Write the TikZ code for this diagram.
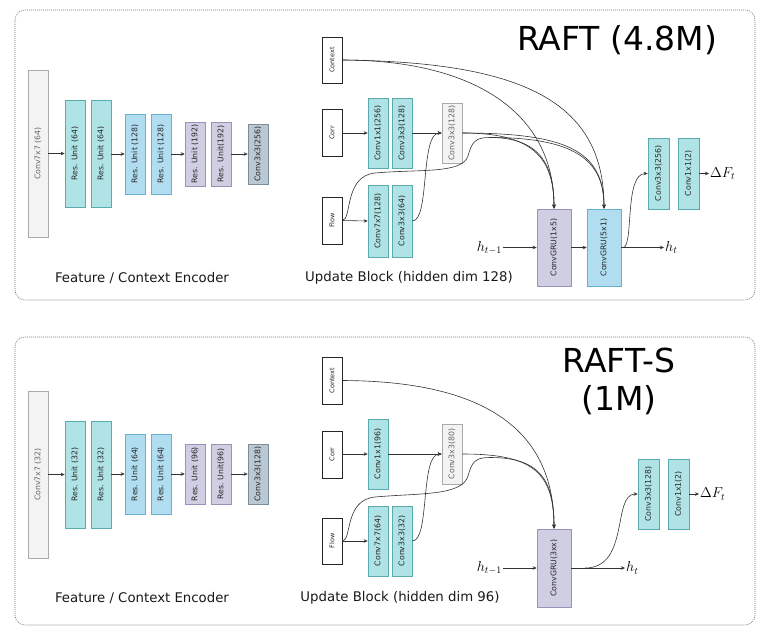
\documentclass[tikz,border=0pt]{standalone}
\usepackage[no-math]{fontspec}
\setmainfont{DejaVu Sans}
\usepackage{graphicx}
\usetikzlibrary{arrows.meta}
\definecolor{tealF}{HTML}{B0E3E6}
\definecolor{tealD}{HTML}{5AABB0}
\definecolor{blueF}{HTML}{B1DDF0}
\definecolor{blueD}{HTML}{6AAED0}
\definecolor{purpF}{HTML}{D0CEE2}
\definecolor{purpD}{HTML}{9893B8}
\definecolor{slateF}{HTML}{BAC8D3}
\definecolor{slateD}{HTML}{7B8D9B}
\definecolor{grayF}{HTML}{F3F3F3}
\definecolor{grayD}{HTML}{AAAAAA}
\tikzset{
 base/.style={draw, rectangle, inner sep=0pt, line width=0.6pt, font=\fontsize{7.8}{9}\selectfont, text=black!85},
 sz/.style 2 args={minimum width=#1, minimum height=#2},
 tealbox/.style={base, fill=tealF, draw=tealD},
 bluebox/.style={base, fill=blueF, draw=blueD},
 purpbox/.style={base, fill=purpF, draw=purpD},
 slatebox/.style={base, fill=slateF, draw=slateD},
 graybox/.style={base, fill=grayF, draw=grayD, text=black!60},
 inbox/.style={base, fill=white, draw=black!85, font=\fontsize{6.5}{7}\selectfont},
 arr/.style={-{Stealth[length=4pt,width=3.5pt]}, line width=0.6pt, draw=black!80},
 ln/.style={line width=0.6pt, draw=black!80},
 panel/.style={draw=black!55, dash pattern=on 1pt off 1pt, line width=0.6pt, rounded corners=10pt},
 mathlbl/.style={inner sep=1pt, font=\fontsize{14}{16}\selectfont},
 captxt/.style={inner sep=0pt, font=\fontsize{13.3}{15}\selectfont, text=black!90},
 ttl/.style={inner sep=0pt, align=center, font=\fontsize{33}{38}\selectfont},
}
\newcommand{\vt}[1]{\rotatebox{90}{#1}}
\begin{document}
\begin{tikzpicture}[x=1pt,y=-1pt]
\useasboundingbox (0,0) rectangle (768,630);
% ================= TOP PANEL =================
\draw[panel] (15,10) rectangle (755,300);
\node[ttl, anchor=center] (t1) at (617,40) {RAFT (4.8M)};
% encoder
\node[graybox, sz={20}{167}] (ac7) at (38,153.5) {\vt{Conv7x7 (64)}};
\node[tealbox, sz={20}{107}] (ar1) at (75,153.5) {\vt{Res. Unit (64)}};
\node[tealbox, sz={20}{107}] (ar2) at (101,153.5) {\vt{Res. Unit (64)}};
\node[bluebox, sz={20}{80}] (ar3) at (135,154) {\vt{Res. Unit (128)}};
\node[bluebox, sz={20}{80}] (ar4) at (161,154) {\vt{Res. Unit (128)}};
\node[purpbox, sz={20}{64}] (ar5) at (195,154) {\vt{Res. Unit (192)}};
\node[purpbox, sz={20}{64}] (ar6) at (221,154) {\vt{Res. Unit(192)}};
\node[slatebox, sz={20}{60}] (ac3) at (258,154) {\vt{Conv3x3(256)}};
\draw[arr] (ac7.east |- ar1) -- (ar1.west);
\draw[arr] (ar2.east |- ar3) -- (ar3.west);
\draw[arr] (ar4.east |- ar5) -- (ar5.west);
\draw[arr] (ar6.east |- ac3) -- (ac3.west);
\node[captxt] (acap) at (142,278) {Feature / Context Encoder};
% update block
\node[inbox, sz={20}{46}] (actx) at (332,60) {\vt{Context}};
\node[inbox, sz={20}{47}] (acorr) at (332,133) {\vt{Corr}};
\node[inbox, sz={20}{47}] (aflow) at (332,220.5) {\vt{Flow}};
\node[tealbox, sz={20}{70}] (ac11) at (378,133) {\vt{Conv1x1(256)}};
\node[tealbox, sz={20}{70}] (ac33a) at (402,133) {\vt{Conv3x3(128)}};
\node[graybox, sz={20}{60}] (ac33g) at (452,133) {\vt{Conv3x3(128)}};
\node[tealbox, sz={20}{72}] (ac77) at (378,221) {\vt{Conv7x7(128)}};
\node[tealbox, sz={20}{72}] (ac33b) at (402,221) {\vt{Conv3x3(64)}};
\node[purpbox, sz={34}{77}] (agru1) at (554,247.5) {\vt{ConvGRU(1x5)}};
\node[bluebox, sz={34}{77}] (agru2) at (604,247.5) {\vt{ConvGRU(5x1)}};
\node[mathlbl, anchor=east] (ahm) at (503,247.5) {$h_{t-1}$};
\node[mathlbl, anchor=west] (aht) at (664,247.5) {$h_t$};
\node[tealbox, sz={21}{71}] (ad33) at (658.5,173.5) {\vt{Conv3x3(256)}};
\node[tealbox, sz={21}{71}] (ad11) at (688.5,173.5) {\vt{Conv1x1(2)}};
\node[mathlbl, anchor=west] (adf) at (709,173.5) {$\Delta F_t$};
\node[captxt] (aucap) at (409,278) {Update Block (hidden dim 128)};
\draw[arr] (acorr.east) -- (ac11.west);
\draw[arr] (ac33a.east) -- (ac33g.west);
\draw[arr] (aflow.east) -- (ac77.west);
\draw[arr] (ac33b.east) .. controls (430,221) and (420,133) .. (ac33g.west);
\draw[arr] (ahm.east) -- (agru1.west);
\draw[arr] (agru1.east) -- (agru2.west);
\draw[arr] (agru2.east) -- (aht.west);
\draw[arr] (ad11.east) -- (adf.west);
\coordinate (afm) at (490,137.5);
\draw[ln] (aflow.east) .. controls (352,220) and (344,176) .. (375,173) .. controls (420,169) and (462,174) .. (468,156) .. controls (472,141) and (476,137.5) .. (afm);
\draw[arr] (afm) .. controls (540,137.5) and (554,165) .. (agru1.north);
\draw[arr] (afm) .. controls (575,137.5) and (604,160) .. (agru2.north);
\draw[arr] (ac33g.east) .. controls (530,133) and (554,155) .. (agru1.north);
\draw[arr] (ac33g.east) .. controls (565,133) and (604,150) .. (agru2.north);
\draw[arr] (actx.east) .. controls (470,60) and (554,110) .. (agru1.north);
\draw[arr] (actx.east) .. controls (520,62) and (604,100) .. (agru2.north);
\coordinate (ag2o) at (623,247.5);
\draw[arr] (ag2o) .. controls (634,247.5) and (624,173.5) .. (ad33.west);
% ================= BOTTOM PANEL =================
\draw[panel] (15,337) rectangle (755,625);
\node[ttl, anchor=center] (t2) at (619,381) {RAFT-S\\(1M)};
% encoder
\node[graybox, sz={20}{167}] (bc7) at (38,474.5) {\vt{Conv7x7 (32)}};
\node[tealbox, sz={20}{107}] (br1) at (75,474.5) {\vt{Res. Unit (32)}};
\node[tealbox, sz={20}{107}] (br2) at (101,474.5) {\vt{Res. Unit (32)}};
\node[bluebox, sz={20}{80}] (br3) at (135,474) {\vt{Res. Unit (64)}};
\node[bluebox, sz={20}{80}] (br4) at (161,474) {\vt{Res. Unit (64)}};
\node[purpbox, sz={20}{60}] (br5) at (195,474) {\vt{Res. Unit (96)}};
\node[purpbox, sz={20}{60}] (br6) at (221,474) {\vt{Res. Unit(96)}};
\node[slatebox, sz={20}{60}] (bc3) at (258,474) {\vt{Conv3x3(128)}};
\draw[arr] (bc7.east |- br1) -- (br1.west);
\draw[arr] (br2.east |- br3) -- (br3.west);
\draw[arr] (br4.east |- br5) -- (br5.west);
\draw[arr] (br6.east |- bc3) -- (bc3.west);
\node[captxt] (bcap) at (142,598) {Feature / Context Encoder};
% update block
\node[inbox, sz={20}{47}] (bctx) at (332,380.5) {\vt{Context}};
\node[inbox, sz={20}{47}] (bcorr) at (332,454.5) {\vt{Corr}};
\node[inbox, sz={20}{46}] (bflow) at (332,541) {\vt{Flow}};
\node[tealbox, sz={20}{70}] (bc11) at (378,454) {\vt{Conv1x1(96)}};
\node[graybox, sz={20}{60}] (bc33g) at (452,454) {\vt{Conv3x3(80)}};
\node[tealbox, sz={20}{70}] (bc77) at (378,541) {\vt{Conv7x7(64)}};
\node[tealbox, sz={20}{70}] (bc33b) at (402,541) {\vt{Conv3x3(32)}};
\node[purpbox, sz={34}{78}] (bgru) at (554,568) {\vt{ConvGRU(3xx)}};
\node[mathlbl, anchor=east] (bhm) at (503,568) {$h_{t-1}$};
\node[mathlbl, anchor=west] (bht) at (625,568) {$h_t$};
\node[tealbox, sz={21}{70}] (bd33) at (648.5,494) {\vt{Conv3x3(128)}};
\node[tealbox, sz={21}{70}] (bd11) at (678.5,494) {\vt{Conv1x1(2)}};
\node[mathlbl, anchor=west] (bdf) at (699,494) {$\Delta F_t$};
\node[captxt] (bucap) at (400,598) {Update Block (hidden dim 96)};
\draw[arr] (bcorr.east |- bc11) -- (bc11.west);
\draw[arr] (bc11.east) -- (bc33g.west);
\draw[arr] (bflow.east) -- (bc77.west);
\draw[arr] (bc33b.east) .. controls (430,541) and (420,454) .. (bc33g.west);
\draw[arr] (bhm.east) -- (bgru.west);
\draw[arr] (bgru.east) -- (bht.west);
\draw[arr] (bd11.east) -- (bdf.west);
\coordinate (bfm) at (490,457.5);
\draw[ln] (bflow.east) .. controls (352,541) and (344,500) .. (375,497) .. controls (420,493) and (462,496) .. (468,476) .. controls (472,461) and (476,457.5) .. (bfm);
\draw[arr] (bfm) .. controls (540,457.5) and (554,480) .. (bgru.north);
\draw[arr] (bc33g.east) .. controls (530,454) and (554,470) .. (bgru.north);
\draw[arr] (bctx.east) .. controls (470,381) and (554,420) .. (bgru.north);
\coordinate (bgo) at (585,568);
\draw[arr] (bgo) .. controls (630,568) and (612,494) .. (bd33.west);
\end{tikzpicture}
\end{document}
